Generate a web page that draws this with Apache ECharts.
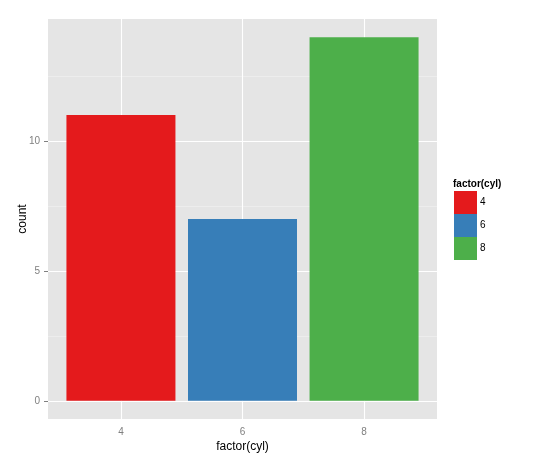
<!DOCTYPE html>
<html><head><meta charset="utf-8">
<script src="https://cdn.jsdelivr.net/npm/echarts@6/dist/echarts.min.js"></script>
<style>html,body{margin:0;padding:0;background:#fff}#c{width:538px;height:464px}</style>
</head><body><div id="c"></div>
<script>
const categories = ['4', '6', '8'];
const counts = [11, 7, 14];
const colors = ['#E41A1C', '#377EB8', '#4DAF4A'];
const yTicks = [0, 5, 10];
const yMinor = [2.5, 7.5, 12.5];

const chart = echarts.init(document.getElementById('c'), null, {renderer: 'canvas'});
const xPos = categories.map((c, i) => i + 1);
const font = 'Arial, "Liberation Sans", sans-serif';

const gridLines = [];
yTicks.forEach(v => gridLines.push({yAxis: v, lineStyle: {color: '#FFFFFF', width: 1.1, type: 'solid'}}));
yMinor.forEach(v => gridLines.push({yAxis: v, lineStyle: {color: '#F2F2F2', width: 0.6, type: 'solid'}}));
xPos.forEach(v => gridLines.push({xAxis: v, lineStyle: {color: '#FFFFFF', width: 1.1, type: 'solid'}}));

const series = categories.map((c, i) => ({
  name: c,
  type: 'bar',
  stack: 'all',
  barWidth: 109,
  z: 3,
  itemStyle: {color: colors[i]},
  data: [[xPos[i], counts[i]]],
  silent: true
}));
series[0].markLine = {
  silent: true, symbol: 'none', z: 1, animation: false,
  label: {show: false},
  lineStyle: {type: 'solid'},
  data: gridLines
};

chart.setOption({
  animation: false,
  backgroundColor: '#FFFFFF',
  title: {
    text: 'factor(cyl)', left: 453, top: 179, padding: 0,
    textStyle: {fontFamily: font, fontSize: 10, fontWeight: 'bold', color: '#000000'}
  },
  legend: {
    orient: 'vertical', left: 454, top: 191, padding: 0, itemWidth: 23, itemHeight: 23, itemGap: 0,
    icon: 'rect', data: categories,
    textStyle: {fontFamily: font, fontSize: 10, color: '#000000', padding: [0, 0, 0, -2]}
  },
  grid: {left: 48, top: 19, right: 101, bottom: 45, show: true, backgroundColor: '#E5E5E5', borderWidth: 0,
    containLabel: false, outerBoundsMode: 'none'},
  xAxis: {
    type: 'value', min: 0.4, max: 3.6,
    name: 'factor(cyl)', nameLocation: 'middle', nameGap: 22, nameMoveOverlap: false,
    nameTextStyle: {fontFamily: font, fontSize: 12, color: '#000000'},
    axisLine: {show: false},
    axisTick: {show: true, length: 4, customValues: xPos, lineStyle: {color: '#7F7F7F'}},
    axisLabel: {customValues: xPos, margin: 8, fontFamily: font, fontSize: 10, color: '#7F7F7F',
      formatter: v => categories[Math.round(v) - 1] || ''},
    splitLine: {show: false}
  },
  yAxis: {
    type: 'value', min: -0.7, max: 14.7,
    name: 'count', nameLocation: 'middle', nameGap: 19, nameMoveOverlap: false,
    nameTextStyle: {fontFamily: font, fontSize: 12, color: '#000000'},
    axisLine: {show: false},
    axisTick: {show: true, length: 4, customValues: yTicks, lineStyle: {color: '#7F7F7F'}},
    axisLabel: {customValues: yTicks, margin: 8, fontFamily: font, fontSize: 10, color: '#7F7F7F'},
    splitLine: {show: false}
  },
  series: series
});
</script></body></html>
